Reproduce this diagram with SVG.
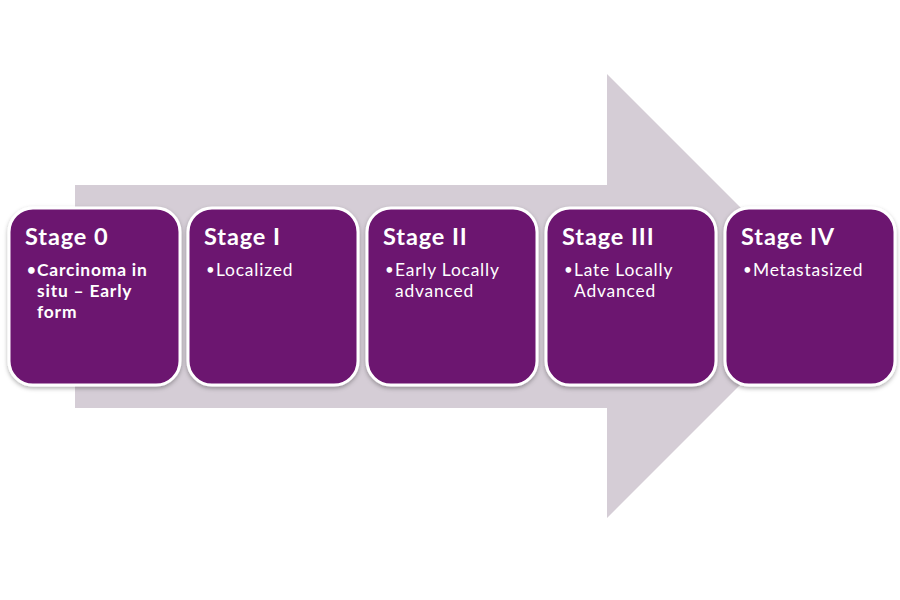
<svg xmlns="http://www.w3.org/2000/svg" width="900" height="600" viewBox="0 0 900 600">
<defs>
<filter id="sh" x="-10%" y="-10%" width="120%" height="125%">
<feDropShadow dx="0" dy="2" stdDeviation="2" flood-color="#000" flood-opacity="0.3"/>
</filter>
</defs>
<style>
.box{fill:#6c1370;stroke:#ffffff;stroke-width:3;filter:url(#sh)}
.h{font-family:Lato,"Open Sans","Liberation Sans",sans-serif;font-weight:bold;font-size:23.5px;letter-spacing:0.9px;fill:#fff}
.t{font-family:Lato,"Open Sans","Liberation Sans",sans-serif;font-size:17.4px;letter-spacing:0.8px;fill:#fff}
.b{font-weight:bold}
.dot{font-size:15px;letter-spacing:0}
</style>
<rect width="900" height="600" fill="#fff"/>
<g id="arrow">
<polygon points="75,185 607,185 607,74 829,296 607,518 607,408 75,408" fill="#d5cdd6"/>
</g>
<g id="connectors"></g>
<g id="stage0">
<rect class="box" x="9" y="208" width="171" height="177" rx="24"/>
<text class="h" x="25" y="245">Stage 0</text>
<text class="t b" x="27" y="276"><tspan class="dot" dy="-1">•</tspan><tspan x="37" dy="1">Carcinoma in</tspan><tspan x="37" dy="21">situ – Early</tspan><tspan x="37" dy="21">form</tspan></text>
</g>
<g id="stage1">
<rect class="box" x="188" y="208" width="170" height="177" rx="24"/>
<text class="h" x="204" y="245">Stage I</text>
<text class="t" x="206" y="276"><tspan class="dot" dy="-1">•</tspan><tspan x="216" dy="1">Localized</tspan></text>
</g>
<g id="stage2">
<rect class="box" x="367" y="208" width="170" height="177" rx="24"/>
<text class="h" x="383" y="245">Stage II</text>
<text class="t" x="385" y="276"><tspan class="dot" dy="-1">•</tspan><tspan x="395" dy="1">Early Locally</tspan><tspan x="395" dy="21">advanced</tspan></text>
</g>
<g id="stage3">
<rect class="box" x="546" y="208" width="170" height="177" rx="24"/>
<text class="h" x="562" y="245">Stage III</text>
<text class="t" x="564" y="276"><tspan class="dot" dy="-1">•</tspan><tspan x="574" dy="1">Late Locally</tspan><tspan x="574" dy="21">Advanced</tspan></text>
</g>
<g id="stage4">
<rect class="box" x="725" y="208" width="170" height="177" rx="24"/>
<text class="h" x="741" y="245">Stage IV</text>
<text class="t" x="743" y="276"><tspan class="dot" dy="-1">•</tspan><tspan x="753" dy="1">Metastasized</tspan></text>
</g>
</svg>
